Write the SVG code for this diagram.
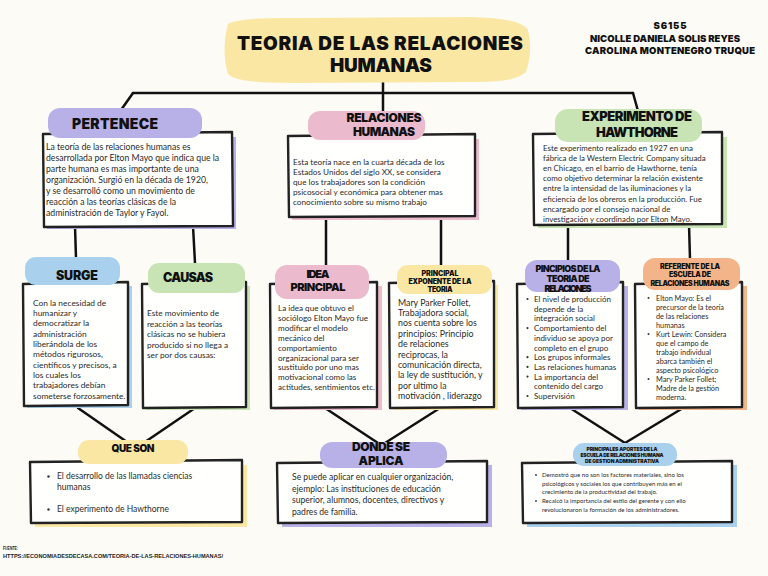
<svg xmlns="http://www.w3.org/2000/svg" width="768" height="576" viewBox="0 0 768 576">
<style>
.bg{fill:#fcfbf6}
.box{fill:#fffffd;stroke:#222;stroke-width:2.4;stroke-linejoin:round}
.h{font-family:Inter,Roboto,"DejaVu Sans",sans-serif;font-weight:900;fill:#111;text-anchor:middle}
.t{font-family:Lato,"Open Sans","Liberation Sans",sans-serif;fill:#2a2a2a}
.c{stroke:#111;stroke-width:2.5;fill:none;stroke-linecap:round}
.pu{fill:#b8b1e8}.pk{fill:#ecbacd}.gr{fill:#c8e4b4}.bl{fill:#a9d0ec}.ye{fill:#fbe7a4}.or{fill:#f4b489}
.dot{fill:#333}
</style>
<rect class="bg" x="0" y="0" width="768" height="576"/>

<g id="connectors">
<line class="c" x1="383" y1="80" x2="383" y2="93"/>
<line class="c" x1="133" y1="93" x2="633" y2="93"/>
<line class="c" x1="133" y1="93" x2="121" y2="110"/>
<line class="c" x1="383" y1="93" x2="383" y2="113"/>
<line class="c" x1="633" y1="93" x2="638" y2="111"/>
<line class="c" x1="75" y1="226" x2="76" y2="258"/>
<line class="c" x1="193" y1="226" x2="195" y2="263"/>
<line class="c" x1="326" y1="216" x2="326" y2="266"/>
<line class="c" x1="441" y1="216" x2="441" y2="266"/>
<line class="c" x1="568" y1="224" x2="568" y2="261"/>
<line class="c" x1="689" y1="224" x2="690" y2="259"/>
<line class="c" x1="78" y1="408" x2="127" y2="442"/>
<line class="c" x1="195" y1="408" x2="145" y2="442"/>
<line class="c" x1="325" y1="408" x2="378" y2="443"/>
<line class="c" x1="440" y1="408" x2="385" y2="443"/>
<line class="c" x1="570" y1="408" x2="625" y2="443"/>
<line class="c" x1="683" y1="408" x2="625" y2="443"/>
</g>

<g id="title">
<path class="ye" d="M228,24 Q240,17 300,18 L470,17 Q522,18 528,30 Q533,50 526,72 Q515,83 470,82 L290,83 Q236,83 228,74 Q221,50 228,24 Z"/>
<text class="h" x="380" y="50" font-size="19" textLength="286">TEORIA DE LAS RELACIONES</text>
<text class="h" x="381" y="72" font-size="19" textLength="102">HUMANAS</text>
</g>

<g id="authors">
<text class="h" x="670" y="29" font-size="9.5" textLength="33">S6155</text>
<text class="h" x="665" y="41.5" font-size="9.5" textLength="150">NICOLLE DANIELA SOLIS REYES</text>
<text class="h" x="670" y="54" font-size="9.5" textLength="170">CAROLINA MONTENEGRO TRUQUE</text>
</g>

<g id="pertenece">
<rect class="pu" x="47" y="137" width="189" height="92"/>
<path class="box" d="M43,134 L232,132 L233,226 L44,227 Z"/>
<rect class="pu" x="48" y="108" width="154" height="30" rx="12"/>
<text class="h" x="115" y="129" font-size="14" textLength="86">PERTENECE</text>
<text class="t" font-size="8.7" x="46">
<tspan x="46" y="149.5">La teoría de las relaciones humanas es</tspan>
<tspan x="46" y="160.6">desarrollada por Elton Mayo que indica que la</tspan>
<tspan x="46" y="171.7">parte humana es mas importante de una</tspan>
<tspan x="46" y="182.8">organización. Surgió en la década de 1920,</tspan>
<tspan x="46" y="193.9">y se desarrolló como un movimiento de</tspan>
<tspan x="46" y="205">reacción a las teorías clásicas de la</tspan>
<tspan x="46" y="216.1">administración de Taylor y Fayol.</tspan>
</text>
</g>

<g id="relaciones">
<rect class="pk" x="292" y="139" width="187" height="81"/>
<path class="box" d="M288,136 L475,134 L475,216 L289,217 Z"/>
<rect class="pk" x="308" y="111" width="117" height="29" rx="12"/>
<text class="h" x="384" y="122" font-size="12" textLength="75">RELACIONES</text>
<text class="h" x="384" y="136" font-size="12" textLength="62">HUMANAS</text>
<text class="t" font-size="8.2">
<tspan x="293" y="164.5">Esta teoría nace en la cuarta década de los</tspan>
<tspan x="293" y="174.5">Estados Unidos del siglo XX, se considera</tspan>
<tspan x="293" y="184.5">que los trabajadores son la condición</tspan>
<tspan x="293" y="194.5">psicosocial y económica para obtener mas</tspan>
<tspan x="293" y="204.5">conocimiento sobre su mismo trabajo</tspan>
</text>
</g>

<g id="experimento">
<rect class="gr" x="538" y="137" width="189" height="91"/>
<path class="box" d="M533,134 L722,132 L722,224 L534,225 Z"/>
<rect class="gr" x="555" y="109" width="147" height="33" rx="13"/>
<text class="h" x="637" y="121" font-size="13" textLength="110">EXPERIMENTO DE</text>
<text class="h" x="637" y="137" font-size="13" textLength="82">HAWTHORNE</text>
<text class="t" font-size="7.9">
<tspan x="543" y="151">Este experimento realizado en 1927 en una</tspan>
<tspan x="543" y="161.1">fábrica de la Western Electric Company situada</tspan>
<tspan x="543" y="171.2">en Chicago, en el barrio de Hawthorne, tenía</tspan>
<tspan x="543" y="181.3">como objetivo determinar la relación existente</tspan>
<tspan x="543" y="191.4">entre la intensidad de las iluminaciones y la</tspan>
<tspan x="543" y="201.5">eficiencia de los obreros en la producción. Fue</tspan>
<tspan x="543" y="211.6">encargado por el consejo nacional de</tspan>
<tspan x="543" y="221.7">investigación y coordinado por Elton Mayo.</tspan>
</text>
</g>

<g id="surge">
<rect class="bl" x="27" y="286" width="105" height="122"/>
<path class="box" d="M23,284 L128,282 L128,405 L24,406 Z"/>
<rect class="bl" x="25" y="257" width="95" height="28" rx="11"/>
<text class="h" x="77" y="280" font-size="12.5" textLength="42">SURGE</text>
<text class="t" font-size="8.4">
<tspan x="33" y="305.5">Con la necesidad de</tspan>
<tspan x="33" y="315.9">humanizar y</tspan>
<tspan x="33" y="326.2">democratizar la</tspan>
<tspan x="33" y="336.6">administración</tspan>
<tspan x="33" y="346.9">liberándola de los</tspan>
<tspan x="33" y="357.3">métodos rigurosos,</tspan>
<tspan x="33" y="367.6">científicos y precisos, a</tspan>
<tspan x="33" y="378">los cuales los</tspan>
<tspan x="33" y="388.3">trabajadores debían</tspan>
<tspan x="33" y="398.7">someterse forzosamente.</tspan>
</text>
</g>

<g id="causas">
<rect class="gr" x="146" y="286" width="104" height="124"/>
<path class="box" d="M142,284 L246,282 L246,407 L143,408 Z"/>
<rect class="gr" x="148" y="263" width="97" height="30" rx="11"/>
<text class="h" x="188" y="282" font-size="12.5" textLength="50">CAUSAS</text>
<text class="t" font-size="8.3">
<tspan x="147" y="316">Este movimiento de</tspan>
<tspan x="147" y="326.6">reacción a las teorías</tspan>
<tspan x="147" y="337.2">clásicas no se hubiera</tspan>
<tspan x="147" y="347.8">producido si no llega a</tspan>
<tspan x="147" y="358.4">ser por dos causas:</tspan>
</text>
</g>

<g id="idea">
<rect class="pk" x="274" y="286" width="108" height="124"/>
<path class="box" d="M270,284 L377,282 L377,407 L271,408 Z"/>
<rect class="pk" x="275" y="265" width="94" height="34" rx="12"/>
<text class="h" x="318" y="278" font-size="11" textLength="23">IDEA</text>
<text class="h" x="318" y="291" font-size="11" textLength="55">PRINCIPAL</text>
<text class="t" font-size="8.1">
<tspan x="278" y="311">La idea que obtuvo el</tspan>
<tspan x="278" y="320.9">sociólogo Elton Mayo fue</tspan>
<tspan x="278" y="330.8">modificar el modelo</tspan>
<tspan x="278" y="340.7">mecánico del</tspan>
<tspan x="278" y="350.6">comportamiento</tspan>
<tspan x="278" y="360.5">organizacional para ser</tspan>
<tspan x="278" y="370.4">sustituido por uno mas</tspan>
<tspan x="278" y="380.3">motivacional como las</tspan>
<tspan x="278" y="390.2">actitudes, sentimientos etc.</tspan>
</text>
</g>

<g id="exponente">
<rect class="ye" x="393" y="285" width="105" height="125"/>
<path class="box" d="M389,283 L494,281 L494,407 L390,408 Z"/>
<rect class="ye" x="397" y="265" width="95" height="29" rx="11"/>
<text class="h" x="440" y="275.5" font-size="7" textLength="37">PRINCIPAL</text>
<text class="h" x="440" y="283.5" font-size="7" textLength="63">EXPONENTE DE LA</text>
<text class="h" x="440" y="291.5" font-size="7" textLength="25">TEORIA</text>
<text class="t" font-size="8.8">
<tspan x="398" y="305.5">Mary Parker Follet,</tspan>
<tspan x="398" y="315.9">Trabajadora social,</tspan>
<tspan x="398" y="326.3">nos cuenta sobre los</tspan>
<tspan x="398" y="336.7">principios:  Principio</tspan>
<tspan x="398" y="347.1">de relaciones</tspan>
<tspan x="398" y="357.5">reciprocas, la</tspan>
<tspan x="398" y="367.9">comunicación directa,</tspan>
<tspan x="398" y="378.3">la ley de sustitución, y</tspan>
<tspan x="398" y="388.7">por ultimo la</tspan>
<tspan x="398" y="399.1">motivación , liderazgo</tspan>
</text>
</g>

<g id="principios">
<rect class="pu" x="521" y="286" width="107" height="124"/>
<path class="box" d="M517,284 L623,282 L623,407 L518,408 Z"/>
<rect class="pu" x="525" y="260" width="95" height="32" rx="12"/>
<text class="h" x="568" y="271.5" font-size="9" textLength="65">PINCIPIOS DE LA</text>
<text class="h" x="568" y="281.5" font-size="9" textLength="43">TEORIA DE</text>
<text class="h" x="568" y="291.5" font-size="9" textLength="47">RELACIONES</text>
<circle class="dot" cx="527.5" cy="299" r="1.1"/>
<circle class="dot" cx="527.5" cy="328.1" r="1.1"/>
<circle class="dot" cx="527.5" cy="357.2" r="1.1"/>
<circle class="dot" cx="527.5" cy="366.9" r="1.1"/>
<circle class="dot" cx="527.5" cy="376.6" r="1.1"/>
<circle class="dot" cx="527.5" cy="396" r="1.1"/>
<text class="t" font-size="8">
<tspan x="534" y="302">El nivel de producción</tspan>
<tspan x="534" y="311.7">depende de la</tspan>
<tspan x="534" y="321.4">integración social</tspan>
<tspan x="534" y="331.1">Comportamiento del</tspan>
<tspan x="534" y="340.8">individuo se apoya por</tspan>
<tspan x="534" y="350.5">completo en el grupo</tspan>
<tspan x="534" y="360.2">Los grupos informales</tspan>
<tspan x="534" y="369.9">Las relaciones humanas</tspan>
<tspan x="534" y="379.6">La importancia del</tspan>
<tspan x="534" y="389.3">contenido del cargo</tspan>
<tspan x="534" y="399">Supervisión</tspan>
</text>
</g>

<g id="referente">
<rect class="or" x="639" y="286" width="108" height="124"/>
<path class="box" d="M635,284 L742,282 L742,407 L636,408 Z"/>
<rect class="or" x="643" y="258" width="97" height="32" rx="12"/>
<text class="h" x="690" y="268.5" font-size="7" textLength="60">REFERENTE DE LA</text>
<text class="h" x="690" y="277" font-size="7" textLength="42">ESCUELA DE</text>
<text class="h" x="690" y="285.5" font-size="7" textLength="79">RELACIONES HUMANAS</text>
<circle class="dot" cx="648.5" cy="298" r="1"/>
<circle class="dot" cx="648.5" cy="334" r="1"/>
<circle class="dot" cx="648.5" cy="379" r="1"/>
<text class="t" font-size="7.3">
<tspan x="656" y="300.5">Elton Mayo: Es el</tspan>
<tspan x="656" y="309.5">precursor de la teoría</tspan>
<tspan x="656" y="318.5">de las relaciones</tspan>
<tspan x="656" y="327.5">humanas</tspan>
<tspan x="656" y="336.5">Kurt Lewin: Considera</tspan>
<tspan x="656" y="345.5">que el campo de</tspan>
<tspan x="656" y="354.5">trabajo individual</tspan>
<tspan x="656" y="363.5">abarca también el</tspan>
<tspan x="656" y="372.5">aspecto psicológico</tspan>
<tspan x="656" y="381.5">Mary Parker Follet;</tspan>
<tspan x="656" y="390.5">Madre de la gestión</tspan>
<tspan x="656" y="399.5">moderna.</tspan>
</text>
</g>

<g id="queson">
<rect class="ye" x="35" y="465" width="212" height="62"/>
<path class="box" d="M30,462 L242,460 L242,522 L31,523 Z"/>
<rect class="ye" x="78" y="440" width="110" height="24" rx="11"/>
<text class="h" x="133" y="452" font-size="10" textLength="43">QUE SON</text>
<circle class="dot" cx="48.5" cy="476.5" r="1.2"/>
<circle class="dot" cx="48.5" cy="509.5" r="1.2"/>
<text class="t" font-size="8.5">
<tspan x="57" y="479">El desarrollo de las llamadas ciencias</tspan>
<tspan x="57" y="490">humanas</tspan>
<tspan x="57" y="512">El experimento de Hawthorne</tspan>
</text>
</g>

<g id="donde">
<rect class="pu" x="282" y="465" width="210" height="62"/>
<path class="box" d="M277,463 L487,461 L487,522 L278,523 Z"/>
<rect class="pu" x="320" y="442" width="127" height="26" rx="12"/>
<text class="h" x="381" y="451" font-size="12" textLength="58">DONDE SE</text>
<text class="h" x="381" y="465" font-size="12" textLength="45">APLICA</text>
<text class="t" font-size="8.6">
<tspan x="292" y="480">Se puede aplicar en cualquier organización,</tspan>
<tspan x="292" y="491.5">ejemplo: Las instituciones de educación</tspan>
<tspan x="292" y="503">superior, alumnos, docentes, directivos y</tspan>
<tspan x="292" y="514.5">padres de familia.</tspan>
</text>
</g>

<g id="aportes">
<rect class="bl" x="527" y="465" width="210" height="62"/>
<path class="box" d="M522,463 L732,461 L732,522 L523,523 Z"/>
<rect class="bl" x="573" y="443" width="104" height="23" rx="11"/>
<text class="h" x="622" y="451" font-size="5" textLength="71">PRINCIPALES APORTES DE LA</text>
<text class="h" x="622" y="457" font-size="5" textLength="83">ESCUELA DE RELACIONES HUMANA</text>
<text class="h" x="622" y="463" font-size="5" textLength="74">DE GESTION ADMINISTRATIVA</text>
<circle class="dot" cx="536" cy="475" r="0.9"/>
<circle class="dot" cx="536" cy="501" r="0.9"/>
<text class="t" font-size="6.1">
<tspan x="542" y="477">Demostró que no son los factores materiales, sino los</tspan>
<tspan x="542" y="485.5">psicológicos y sociales los que contribuyen más en el</tspan>
<tspan x="542" y="494">crecimiento de la productividad del trabajo.</tspan>
<tspan x="542" y="503">Recalcó la importancia del estilo del gerente y con ello</tspan>
<tspan x="542" y="511.5">revolucionaron la formación de los administradores.</tspan>
</text>
</g>

<g id="fuente">
<text x="3" y="550" font-family="Liberation Sans, Arial, sans-serif" font-weight="bold" font-size="6" fill="#222" textLength="15" lengthAdjust="spacingAndGlyphs">FUENTE:</text>
<text x="3" y="558" font-family="Liberation Sans, Arial, sans-serif" font-weight="bold" font-size="6" fill="#222" textLength="220" lengthAdjust="spacingAndGlyphs">HTTPS://ECONOMIADESDECASA.COM/TEORIA-DE-LAS-RELACIONES-HUMANAS/</text>
</g>
</svg>
